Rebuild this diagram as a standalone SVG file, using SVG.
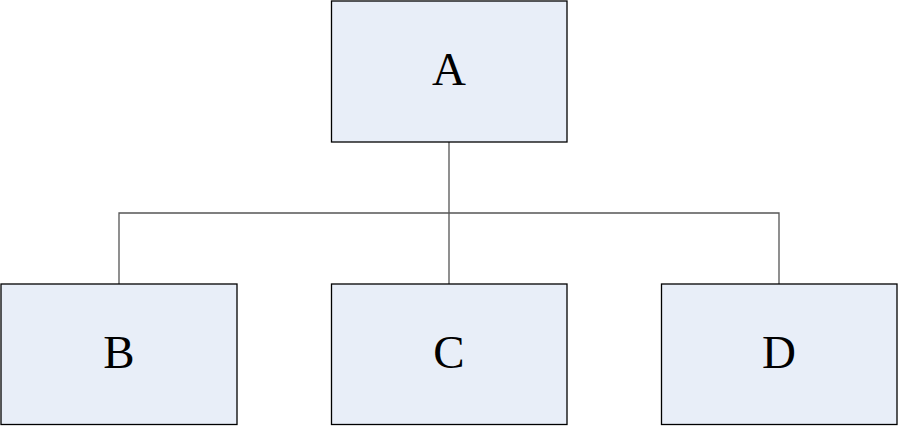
<svg xmlns="http://www.w3.org/2000/svg" width="899" height="426" viewBox="0 0 899 426">
<style>
.box{fill:#E8EEF8;stroke:#000;stroke-width:1.3}
.lbl{font-family:"Liberation Serif","Times New Roman",serif;font-size:47px;text-anchor:middle;fill:#000}
.conn{fill:none;stroke:#555;stroke-width:1.3}
</style>
<rect width="899" height="426" fill="#fff"/>
<g id="connectors">
<path class="conn" d="M449 142V284M119 284V213H779V284"/>
</g>
<g id="A"><rect class="box" x="331.5" y="1" width="235.5" height="141"/><text class="lbl" x="449" y="85">A</text></g>
<g id="B"><rect class="box" x="1" y="284" width="236" height="140.5"/><text class="lbl" x="119" y="368">B</text></g>
<g id="C"><rect class="box" x="331.5" y="284" width="235.5" height="140.5"/><text class="lbl" x="449" y="368">C</text></g>
<g id="D"><rect class="box" x="661.5" y="284" width="235.5" height="140.5"/><text class="lbl" x="779" y="368">D</text></g>
</svg>
